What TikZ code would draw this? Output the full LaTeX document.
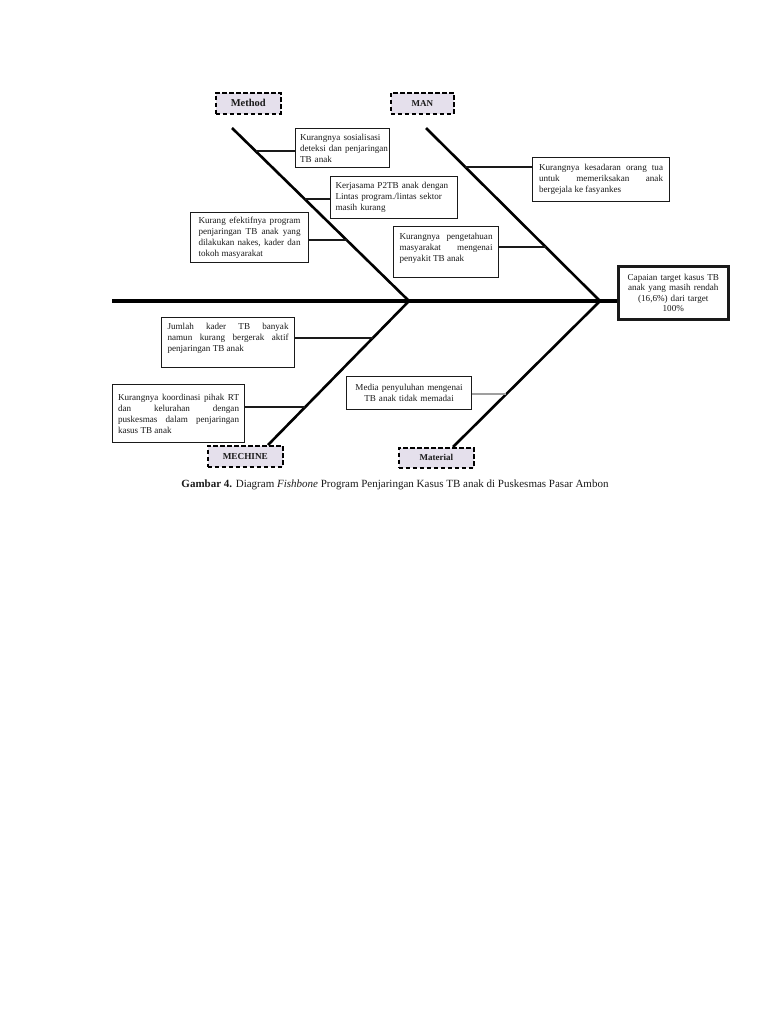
\documentclass[tikz,border=0pt]{standalone}
\usepackage{fontspec}
\setmainfont{Liberation Serif}
\usetikzlibrary{calc}
\definecolor{lav}{HTML}{E5E0EC}
\definecolor{ink}{HTML}{1A1A1A}
\newcommand{\causefont}{\fontsize{9.1}{11}\selectfont\hyphenpenalty=10000 \exhyphenpenalty=10000 \tolerance=10000 \emergencystretch=5pt\relax}
\tikzset{
  cause/.style={draw=ink, line width=1.1pt, anchor=north west, inner ysep=0pt,
    font={\causefont}, text=ink},
  cat/.style={draw=black, line width=1.6pt, dash pattern=on 4.5pt off 2.5pt,
    fill=lav, anchor=north west, inner sep=0pt, font=\bfseries, text=ink},
  bone/.style={line width=2.6pt, black},
  branch/.style={line width=1.5pt, ink},
}
\begin{document}
\begin{tikzpicture}[x=1pt,y=-1pt]
\useasboundingbox (0,0) rectangle (768,1024);

% category boxes
\node[cat, minimum width=65pt, minimum height=21pt, font=\fontsize{10.5}{12}\selectfont\bfseries] (meth) at (215,92) {Method};
\node[cat, minimum width=63pt, minimum height=21pt, font=\fontsize{9}{11}\selectfont\bfseries] (man) at (390,92) {MAN};
\node[cat, minimum width=75pt, minimum height=21pt, font=\fontsize{9.2}{11}\selectfont\bfseries] (mech) at (207,445) {MECHINE};
\node[cat, minimum width=75pt, minimum height=20pt, font=\fontsize{9}{11}\selectfont\bfseries] (mat) at (398,447) {Material};

% head
\node[cause, line width=2.6pt, minimum width=110pt, minimum height=53pt, inner xsep=0pt, text width=104pt, align=center,
  font=\fontsize{9.1}{10.4}\selectfont] (head) at (617,265)
  {Capaian target kasus TB\\ anak yang masih rendah\\ (16,6\%) dari target\\ 100\%};

% causes
\node[cause, minimum width=94pt, minimum height=39pt, inner xsep=1.5pt, text width=91pt, align=left] (sos) at (295,128)
  {\hspace*{3pt}Kurangnya sosialisasi\\ \hspace*{3pt}deteksi dan penjaringan\\ \hspace*{3pt}TB anak};
\node[cause, minimum width=127pt, minimum height=42pt, inner xsep=5pt, text width=117pt, align=left] (kerj) at (330,176)
  {Kerjasama P2TB anak dengan\\ Lintas program./lintas sektor\\ masih kurang};
\node[cause, minimum width=118pt, minimum height=50pt, inner xsep=8pt, text width=102pt, align=justify] (efek) at (190,212)
  {Kurang efektifnya program\linebreak penjaringan TB anak yang\linebreak dilakukan nakes, kader dan\linebreak tokoh masyarakat};
\node[cause, minimum width=105pt, minimum height=51pt, inner xsep=6pt, text width=93pt, align=justify] (peng) at (393,226)
  {Kurangnya pengetahuan\linebreak masyarakat mengenai\linebreak penyakit TB anak\par\vspace*{8pt}};
\node[cause, minimum width=137pt, minimum height=44pt, inner xsep=6.5pt, text width=124pt, align=justify] (kes) at (532,157)
  {Kurangnya kesadaran orang tua\linebreak untuk memeriksakan anak\linebreak bergejala ke fasyankes};
\node[cause, minimum width=133pt, minimum height=50pt, inner xsep=6pt, text width=121pt, align=justify] (jum) at (161,317)
  {Jumlah kader TB banyak\linebreak namun kurang bergerak aktif\linebreak penjaringan TB anak\par\vspace*{8pt}};
\node[cause, minimum width=132pt, minimum height=58pt, inner xsep=5.5pt, text width=121pt, align=justify] (koor) at (112,384)
  {Kurangnya koordinasi pihak RT\linebreak dan kelurahan dengan\linebreak puskesmas dalam penjaringan\linebreak kasus TB anak};
\node[cause, minimum width=125pt, minimum height=33pt, inner xsep=4pt, text width=117pt, align=center] (media) at (346,376)
  {Media penyuluhan mengenai\\ TB anak tidak memadai};

% skeleton coordinates
\coordinate (tail) at (112,301);
\coordinate (j1) at (409,301);
\coordinate (j2) at (600,301);
\coordinate (m1) at (232,128);
\coordinate (m2) at (426,128);
\coordinate (m3) at (268,445);
\coordinate (m4) at (453,447);

% spine and bones
\draw[line width=3.2pt] (tail) -- (tail -| head.west);
\draw[bone] (m1) -- (j1);
\draw[bone] (m2) -- (j2);
\draw[bone] (j1) -- (m3);
\draw[bone] (j2) -- (m4);

% branch points on bones
\coordinate (b1) at (255.5,151);
\coordinate (b2) at (304.6,199);
\coordinate (b3) at (346.6,240);
\coordinate (b4) at (465.2,167);
\coordinate (b5) at (545.7,247);
\coordinate (b6) at (372.8,338);
\coordinate (b7) at (305.2,407);
\coordinate (b8) at (506.4,394);

\draw[branch] (b1) -- (b1 -| sos.west);
\draw[branch] (b2) -- (b2 -| kerj.west);
\draw[branch] (b3) -- (b3 -| efek.east);
\draw[branch] (b4) -- (b4 -| kes.west);
\draw[branch] (b5) -- (b5 -| peng.east);
\draw[branch] (b6) -- (b6 -| jum.east);
\draw[branch] (b7) -- (b7 -| koor.east);
\draw[line width=1.4pt, gray!75] (b8) -- (b8 -| media.east);

% caption
\node[font=\fontsize{11}{13}\selectfont, text=ink] (cap) at (395,485)
  {\textbf{Gambar 4.} Diagram \textit{Fishbone} Program Penjaringan Kasus TB anak di Puskesmas Pasar Ambon};
\end{tikzpicture}
\end{document}
